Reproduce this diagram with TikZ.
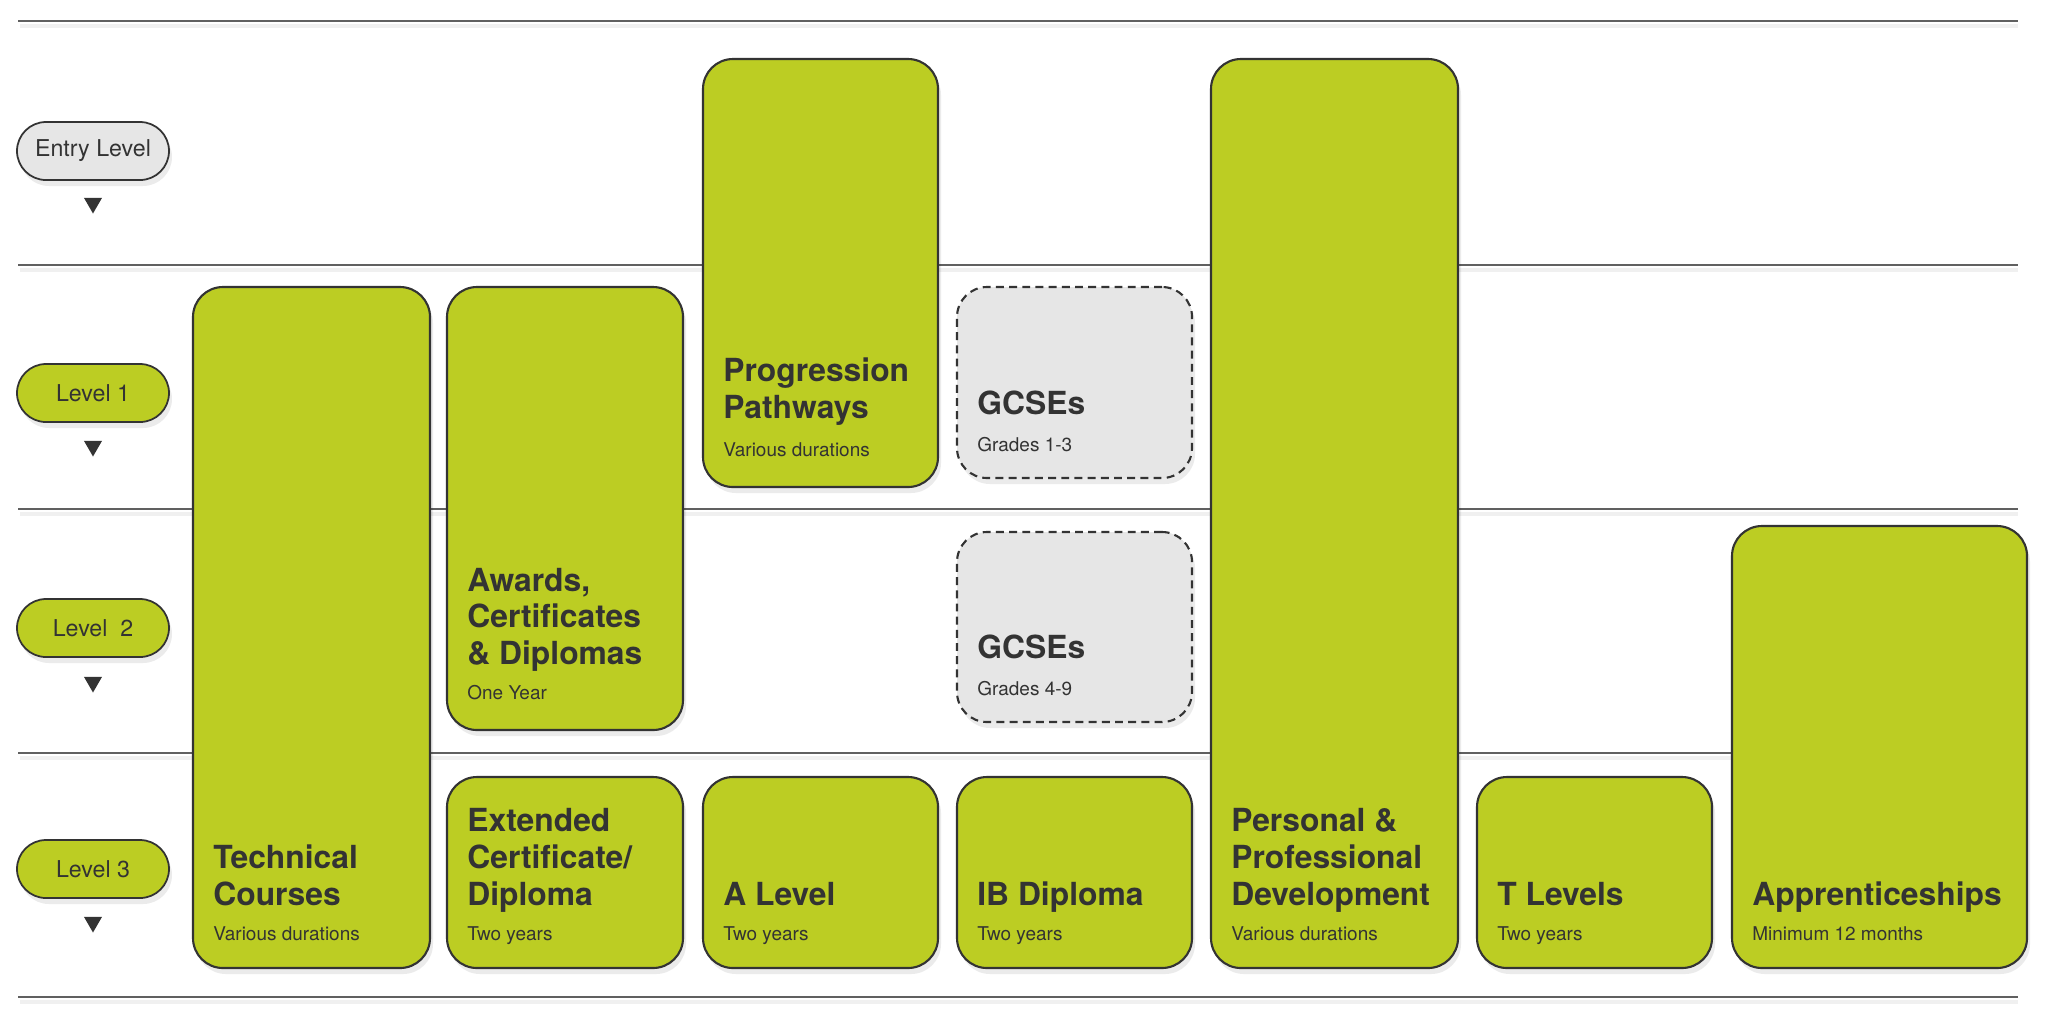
\documentclass[tikz,border=0pt]{standalone}
\usepackage{fontspec}
\setmainfont{TeX Gyre Heros}
\usepackage{tikz}
\usetikzlibrary{positioning,shapes.misc,shapes.geometric,shadows}

\definecolor{levelgreen}{HTML}{BCCD23}
\definecolor{inkgray}{HTML}{333333}
\definecolor{gcsegray}{HTML}{E6E6E6}
\definecolor{rulegray}{HTML}{606060}

\begin{document}
\begin{tikzpicture}[x=0.2mm,y=-0.2mm,
softshadow/.style={drop shadow={shadow xshift=0.6mm,shadow yshift=-1.2mm,fill=black,opacity=0.08}},
rule/.style={draw=rulegray,line width=0.9pt},
ruleshade/.style={draw=black!6,line width=2pt},
course/.style={draw=inkgray,line width=1.2pt,fill=levelgreen,rounded corners=6mm,
	inner sep=0pt,outer sep=0pt,anchor=north west,softshadow},
gcse/.style={course,fill=gcsegray,dash pattern=on 4.5pt off 3pt},
pill/.style={rounded rectangle,draw=inkgray,line width=1pt,fill=levelgreen,
	minimum width=30.4mm,minimum height=11.6mm,inner sep=0pt,text=inkgray,
	font=\fontsize{13.2}{15}\selectfont,softshadow},
marker/.style={regular polygon,regular polygon sides=3,shape border rotate=180,
	fill=inkgray,minimum size=4.2mm,inner sep=0pt},
title/.style={anchor=base west,align=left,inner sep=0pt,text=inkgray,
	font=\fontsize{18.1}{20.8}\selectfont\bfseries},
sub/.style={anchor=base west,inner sep=0pt,text=inkgray,
	font=\fontsize{10.8}{12}\selectfont}]

\useasboundingbox (0,0) rectangle (2048,1024);

% Level lines
\foreach \y in {21,265,509,753,997}{
	\draw[ruleshade] (20,\y+5) -- (2018,\y+5);
	\draw[rule] (18,\y) -- (2018,\y);
}

% Levels
\node[pill,fill=gcsegray] (entry) at (93,151) {Entry Level};
\node[marker] (entrymark) at (93,203) {};
\node[pill] (lvlone) at (93,393) {Level 1};
\node[marker] (lvlonemark) at (93,446) {};
\node[pill] (lvltwo) at (93,628) {Level\ \ 2};
\node[marker] (lvltwomark) at (93,682) {};
\node[pill] (lvlthree) at (93,869) {Level 3};
\node[marker] (lvlthreemark) at (93,922) {};

% Courses
\node[course,minimum width=47.4mm,minimum height=136.2mm] (tech) at (193,287) {};
\node[sub] (techsub) at ([xshift=4mm,yshift=5.6mm]tech.south west) {Various durations};
\node[title] (techtitle) at ([yshift=7mm]techsub.base west) {Technical\\Courses};

\node[course,minimum width=47.2mm,minimum height=88.6mm] (awards) at (447,287) {};
\node[sub] (awardssub) at ([xshift=4mm,yshift=6.1mm]awards.south west) {One Year};
\node[title] (awardstitle) at ([yshift=7mm]awardssub.base west) {Awards,\\Certificates\\\& Diplomas};

\node[course,minimum width=47.2mm,minimum height=38.2mm] (ext) at (447,777) {};
\node[sub] (extsub) at ([xshift=4mm,yshift=5.6mm]ext.south west) {Two years};
\node[title] (exttitle) at ([yshift=7mm]extsub.base west) {Extended\\Certificate/\\Diploma};

\node[course,minimum width=47mm,minimum height=85.6mm] (prog) at (703,59) {};
\node[sub] (progsub) at ([xshift=4mm,yshift=6.2mm]prog.south west) {Various durations};
\node[title] (progtitle) at ([yshift=7.6mm]progsub.base west) {Progression\\Pathways};

\node[course,minimum width=47mm,minimum height=38.2mm] (alevel) at (703,777) {};
\node[sub] (alevelsub) at ([xshift=4mm,yshift=5.6mm]alevel.south west) {Two years};
\node[title] (aleveltitle) at ([yshift=7mm]alevelsub.base west) {A Level};

\node[gcse,minimum width=47mm,minimum height=38.2mm] (gcselow) at (957,287) {};
\node[sub] (gcselowsub) at ([xshift=4mm,yshift=5.3mm]gcselow.south west) {Grades 1-3};
\node[title] (gcselowtitle) at ([yshift=7.4mm]gcselowsub.base west) {GCSEs};

\node[gcse,minimum width=47mm,minimum height=38mm] (gcsehigh) at (957,532) {};
\node[sub] (gcsehighsub) at ([xshift=4mm,yshift=5.3mm]gcsehigh.south west) {Grades 4-9};
\node[title] (gcsehightitle) at ([yshift=7.4mm]gcsehighsub.base west) {GCSEs};

\node[course,minimum width=47mm,minimum height=38.2mm] (ib) at (957,777) {};
\node[sub] (ibsub) at ([xshift=4mm,yshift=5.6mm]ib.south west) {Two years};
\node[title] (ibtitle) at ([yshift=7mm]ibsub.base west) {IB Diploma};

\node[course,minimum width=49.4mm,minimum height=181.8mm] (pers) at (1211,59) {};
\node[sub] (perssub) at ([xshift=4mm,yshift=5.6mm]pers.south west) {Various durations};
\node[title] (perstitle) at ([yshift=7mm]perssub.base west) {Personal \&\\Professional\\Development};

\node[course,minimum width=47mm,minimum height=38.2mm] (tlev) at (1477,777) {};
\node[sub] (tlevsub) at ([xshift=4mm,yshift=5.6mm]tlev.south west) {Two years};
\node[title] (tlevtitle) at ([yshift=7mm]tlevsub.base west) {T Levels};

\node[course,minimum width=59mm,minimum height=88.4mm] (appr) at (1732,526) {};
\node[sub] (apprsub) at ([xshift=4mm,yshift=5.6mm]appr.south west) {Minimum 12 months};
\node[title] (apprtitle) at ([yshift=7mm]apprsub.base west) {Apprenticeships};

\end{tikzpicture}
\end{document}
